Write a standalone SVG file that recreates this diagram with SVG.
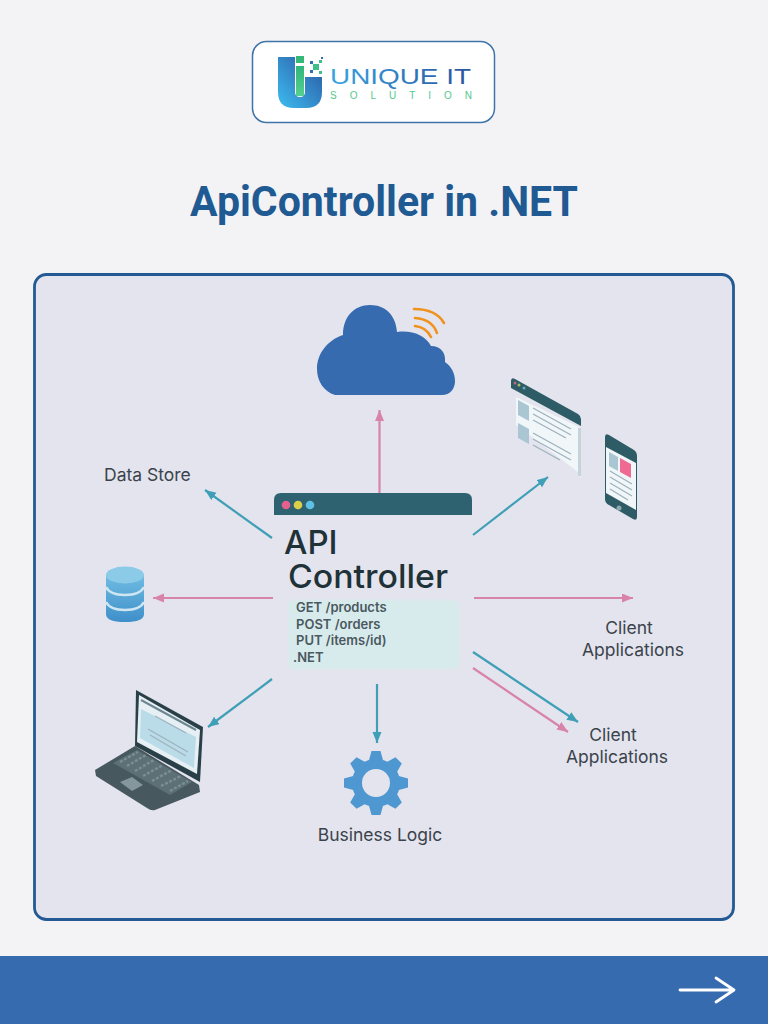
<svg xmlns="http://www.w3.org/2000/svg" width="768" height="1024" viewBox="0 0 768 1024">
<style>
.lbl{font-family:"Inter","Liberation Sans",sans-serif;font-size:17.5px;fill:#3a434b;font-weight:400}
.code{font-family:"Inter","Liberation Sans",sans-serif;font-size:13px;fill:#4a585f;font-weight:600}
.ctrl{font-family:"Inter","Liberation Sans",sans-serif;font-size:33px;fill:#1f3238;font-weight:500}
.t{stroke:#3f9fb6;stroke-width:2.200;fill:none;marker-end:url(#at)}
.p{stroke:#d884aa;stroke-width:2.200;fill:none;marker-end:url(#ap)}
.logo{font-family:"Liberation Sans",sans-serif}
.line{stroke:#9fb4c0;stroke-width:1.400}
.key{stroke:#7b8e92;stroke-width:2.400;stroke-dasharray:3 1.600}
</style>
<defs>
<marker id="at" markerUnits="userSpaceOnUse" markerWidth="12" markerHeight="10" refX="11" refY="4.500" orient="auto"><path d="M0 0L11 4.500L0 9z" fill="#3f9fb6"/></marker>
<marker id="ap" markerUnits="userSpaceOnUse" markerWidth="12" markerHeight="10" refX="11" refY="4.500" orient="auto"><path d="M0 0L11 4.500L0 9z" fill="#d884aa"/></marker>
<linearGradient id="u" x1="0" y1="1" x2="1" y2="0"><stop offset="0" stop-color="#3dbdf0"/><stop offset="1" stop-color="#2a54a0"/></linearGradient>
<linearGradient id="g" x1="0" y1="0" x2="0" y2="1"><stop offset="0" stop-color="#2fb57a"/><stop offset="1" stop-color="#57d08e"/></linearGradient>
<linearGradient id="tx" gradientUnits="userSpaceOnUse" x1="330" y1="0" x2="470" y2="0"><stop offset="0" stop-color="#3aa6e0"/><stop offset="1" stop-color="#2a54a0"/></linearGradient>
<linearGradient id="db" x1="0" y1="0" x2="0" y2="1"><stop offset="0" stop-color="#6fbce2"/><stop offset="1" stop-color="#3f8fca"/></linearGradient>
<filter id="soft" x="-10%" y="-10%" width="120%" height="120%"><feGaussianBlur stdDeviation="0.700"/></filter>
<filter id="box" x="-5%" y="-5%" width="110%" height="110%"><feGaussianBlur stdDeviation="1.200"/></filter>
<path id="tooth" d="M-4.500-32H4.500L7.500-21H-7.500Z" fill="#4f97d0"/>
</defs>
<rect width="768" height="1024" fill="#f3f3f6"/>

<g id="logo">
<rect x="252.500" y="41.500" width="242" height="81" rx="14" fill="#fff" stroke="#3f74a8" stroke-width="1.500"/>
<path d="M278 57H295V92Q295 97 300 97Q305 97 305 92V77H322V92Q322 108 306 108H294Q278 108 278 92Z" fill="url(#u)"/>
<rect x="296" y="56" width="8" height="7" fill="#36b878"/>
<rect x="296" y="66" width="8" height="30" fill="url(#g)"/>
<rect x="313" y="64" width="6" height="6" fill="#3fc08a"/>
<rect x="310" y="61" width="3" height="3" fill="#2f6fb5"/>
<rect x="319" y="60" width="3" height="3" fill="#3fc08a"/>
<rect x="321" y="57" width="2" height="2" fill="#2f6fb5"/>
<rect x="310" y="70" width="3" height="3" fill="#2f6fb5"/>
<rect x="319" y="71" width="3" height="3" fill="#3fc08a"/>
<text class="logo" x="330" y="84" font-size="22" fill="url(#tx)" textLength="141" lengthAdjust="spacingAndGlyphs">UNIQUE IT</text>
<text class="logo" x="330" y="99" font-size="10" fill="#52c98b" textLength="142" lengthAdjust="spacing">SOLUTION</text>
</g>

<text id="title" x="190" y="216" font-family="Roboto,'Liberation Sans',sans-serif" font-size="42" font-weight="700" fill="#1f5a92" textLength="388" lengthAdjust="spacingAndGlyphs">ApiController in .NET</text>

<rect id="panel" x="34.500" y="274.500" width="699" height="645" rx="12" fill="#e4e4ee" stroke="#235a93" stroke-width="2.800"/>

<g id="connectors">
<path class="p" d="M379.500 493V410"/>
<path class="t" d="M272 538L205 490"/>
<path class="t" d="M473 535L548 477"/>
<path class="p" d="M273 598H153"/>
<path class="p" d="M474 598H633"/>
<path class="t" d="M272 679L208 727"/>
<path class="t" d="M377 684V743"/>
<path class="t" d="M473 652L578 722"/>
<path class="p" d="M473 668L568 732"/>
</g>

<g id="cloud">
<path d="M335 395C324 392 317 381 317 369C317 353 328 340 343 335C343 317 354 305 370 305C386 305 396 316 397 332C412 330 425 335 431 346C441 346 446 353 445 362C451 366 455 373 455 381C455 389 450 395 442 395Z" fill="#366bb0"/>
<g fill="none" stroke="#f0921e" stroke-width="2.600" stroke-linecap="round">
<path d="M415 326Q426 327 431 337"/>
<path d="M415 318Q432 319 437 333"/>
<path d="M414 309Q436 309 444 323"/>
</g>
</g>

<g id="browser" filter="url(#soft)">
<path d="M516 397L581 428V478L578 472L516 425Z" fill="#f1f6f8"/>
<path d="M511 381Q511 377 515 379L578 414Q581 416 581 419V426L511 388Z" fill="#2f5b66"/>
<rect x="578" y="428" width="3" height="48" fill="#c4d4da"/>
<path d="M518 400L529 406V421L518 415ZM518 423L529 429V444L518 438Z" fill="#a9c6d2"/>
<path class="line" d="M533 408L571 429M533 414L571 435M533 420L566 438M533 433L571 454M533 439L571 460M533 445L560 460"/>
<circle cx="515" cy="383" r="1.500" fill="#b7697f"/><circle cx="519" cy="385" r="1.500" fill="#b5b56a"/><circle cx="524" cy="388" r="1.500" fill="#6aa8b5"/>
</g>

<g id="phone" filter="url(#soft)">
<path d="M605 437Q605 433 609 435L634 450Q637 452 637 456V517Q637 521 633 519L609 505Q605 503 605 499Z" fill="#2f5b66"/>
<path d="M606 447L636 463V510L606 493Z" fill="#f1f6f8"/>
<path d="M609 452L618 457V471L609 466Z" fill="#a9c6d2"/>
<path d="M620 458L631 464V478L620 472Z" fill="#ee6b93"/>
<path class="line" d="M610 471L632 484M610 477L632 490M610 483L632 496M610 489L628 500"/>
<circle cx="619" cy="508" r="2.500" fill="#8fa8b0"/>
</g>

<g id="api-controller">
<path d="M274 500Q274 493 281 493H465Q472 493 472 500V515H274Z" fill="#2f6270"/>
<circle cx="286" cy="505" r="4.300" fill="#e6608e"/>
<circle cx="298" cy="505" r="4.300" fill="#d9cf4a"/>
<circle cx="310" cy="505" r="4.300" fill="#5dc0e4"/>
<text class="ctrl" x="284" y="554">API</text>
<text class="ctrl" x="288" y="588" textLength="160" lengthAdjust="spacingAndGlyphs">Controller</text>
<rect x="288" y="600" width="171" height="69" rx="5" fill="#d8ebec" filter="url(#box)"/>
<text class="code" x="296" y="612">GET /products</text>
<text class="code" x="296" y="629">POST /orders</text>
<text class="code" x="296" y="645">PUT /items/id)</text>
<text class="code" x="293" y="662">.NET</text>
</g>

<g id="data-store"><text class="lbl" x="104" y="481">Data Store</text></g>

<g id="database" filter="url(#soft)">
<path d="M106 575V614Q106 622 125 622Q144 622 144 614V575Z" fill="url(#db)"/>
<ellipse cx="125" cy="575" rx="19" ry="8.500" fill="#8ccbe8"/>
<path d="M106 587Q110 595 125 595Q140 595 144 587M106 602Q110 610 125 610Q140 610 144 602" fill="none" stroke="#cfe6f2" stroke-width="2.500"/>
</g>

<g id="laptop" filter="url(#soft)">
<path d="M95 770L135 746L199 785L200 792L155 810Q151 811 147 808L96 776Z" fill="#46595e"/>
<path d="M136 690L203 727L200 782L135 746Z" fill="#2c4148"/>
<path d="M139 695L200 730L197 774L137 742Z" fill="#e6f0f4"/>
<path d="M141 709L196 737L194 768L140 738Z" fill="#b9dce8"/>
<path d="M141 700L196 730" stroke="#6d8791" stroke-width="2" fill="none"/>
<path class="line" d="M155 716L186 733M148 729L188 752M150 735L186 756" stroke="#6aa8c4"/>
<path d="M113 763L137 750L192 782L170 795Z" fill="#5b7076"/>
<path class="key" d="M120 762L138 752M127 766L146 755M135 771L154 760M143 776L163 765M152 781L172 770M161 786L181 776M170 791L188 781" fill="none"/>
<path d="M120 782L132 777L143 785L132 791Z" fill="#84979c"/>
</g>

<g id="gear">
<circle cx="376" cy="783" r="19" fill="none" stroke="#4f97d0" stroke-width="10"/>
<g transform="translate(376 783)">
<use href="#tooth"/><use href="#tooth" transform="rotate(45)"/><use href="#tooth" transform="rotate(90)"/><use href="#tooth" transform="rotate(135)"/><use href="#tooth" transform="rotate(180)"/><use href="#tooth" transform="rotate(225)"/><use href="#tooth" transform="rotate(270)"/><use href="#tooth" transform="rotate(315)"/>
</g>
</g>

<g id="business-logic"><text class="lbl" x="380" y="841" text-anchor="middle">Business Logic</text></g>
<g id="client-apps-1"><text class="lbl" x="629" y="634" text-anchor="middle">Client</text><text class="lbl" x="633" y="656" text-anchor="middle">Applications</text></g>
<g id="client-apps-2"><text class="lbl" x="613" y="741" text-anchor="middle">Client</text><text class="lbl" x="617" y="763" text-anchor="middle">Applications</text></g>

<g id="footer">
<rect y="956" width="768" height="68" fill="#366bb0"/>
<path d="M680 990H733M716 978L734 990L716 1002" fill="none" stroke="#fff" stroke-width="2.800" stroke-linecap="round" stroke-linejoin="round"/>
</g>
</svg>
